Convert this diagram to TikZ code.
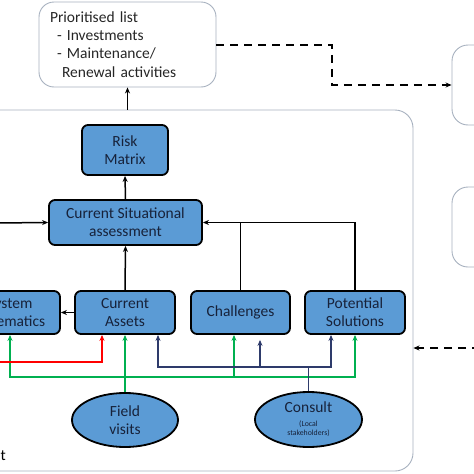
\documentclass[tikz,border=0pt]{standalone}
\usepackage{fontspec}
\setmainfont{Carlito}
\usetikzlibrary{arrows.meta,shapes.geometric,calc}
\definecolor{boxblue}{HTML}{5B9BD5}
\definecolor{txtnavy}{HTML}{17223A}
\definecolor{lgray}{HTML}{A7B1BF}
\definecolor{gline}{HTML}{00B050}
\definecolor{nline}{HTML}{2E3B6B}
\definecolor{rline}{HTML}{FF0000}
\newcommand{\bigf}{\fontsize{15.5}{18}\selectfont}
\newcommand{\smallf}{\fontsize{7.8}{9.5}\selectfont}
\begin{document}
\begin{tikzpicture}[x=1pt,y=-1pt,
  bluebox/.style={draw=black, line width=1.8pt, fill=boxblue, rounded corners=6pt, align=center, text=txtnavy, font=\bigf, inner sep=0pt},
  blueell/.style={ellipse, draw=black, line width=1.8pt, fill=boxblue, align=center, text=txtnavy, font=\bigf, inner sep=0pt},
  lightbox/.style={draw=lgray, line width=0.9pt, rounded corners=16pt},
  conn/.style={line width=1.5pt, -{Stealth[length=6pt,width=5pt]}},
  gconn/.style={draw=gline, line width=1.6pt, -{Stealth[length=6pt,width=5pt]}},
  nconn/.style={draw=nline, line width=1.6pt, -{Stealth[length=6pt,width=5pt]}},
  rconn/.style={draw=rline, line width=1.6pt, -{Stealth[length=6pt,width=5pt]}},
  dashconn/.style={line width=2pt, dash pattern=on 8pt off 6pt, -{Stealth[length=6pt,width=5pt]}}
]
\useasboundingbox (0,0) rectangle (474,474);
\clip (0,0) rectangle (474,474);

% light frames
\node[lightbox, rounded corners=18pt, minimum width=453pt, minimum height=361pt] (mainbox) at (186.5,290.5) {};
\node[lightbox, rounded corners=15pt, minimum width=177pt, minimum height=85pt, text width=155pt, inner xsep=11pt, inner ysep=0pt, align=left, text={black!85}, font=\fontsize{15.5}{18.3}\selectfont] (prio) at (127.5,44.5)
  {Prioritised list\\\hspace*{7pt}- Investments\\\hspace*{7pt}- Maintenance/\\\hspace*{12pt}Renewal\ activities};
\node[lightbox, minimum width=80pt, minimum height=80pt] (box1) at (492,85) {};
\node[lightbox, minimum width=80pt, minimum height=80pt] (box2) at (492,227) {};

% blue nodes
\node[bluebox, minimum width=86pt, minimum height=50pt] (risk) at (125,150) {Risk\\Matrix};
\node[bluebox, minimum width=153pt, minimum height=45pt] (csa) at (125.5,222.5) {Current Situational\\assessment};
\node[bluebox, minimum width=100pt, minimum height=43pt] (schem) at (10,312.5) {System\\Schematics};
\node[bluebox, minimum width=100pt, minimum height=43pt] (assets) at (125,312.5) {Current\\Assets};
\node[bluebox, minimum width=99pt, minimum height=43pt] (chall) at (240.5,312.5) {Challenges};
\node[bluebox, minimum width=100pt, minimum height=43pt] (sol) at (355,312.5) {Potential\\Solutions};
\node[blueell, minimum width=106pt, minimum height=54pt] (field) at (125,420) {Field\\visits};
\node[blueell, minimum width=107pt, minimum height=55pt] (consult) at (308.5,419.5) {Consult\\[-4pt]\smallf (Local\\[-9pt]\smallf stakeholders)};
\node[anchor=base east, inner sep=0pt, font=\bigf] (tlabel) at (6,460) {t};

% helper coordinates
\coordinate (leftin) at (-5,223);
\coordinate (redstart) at (-5,362);
\coordinate (gy) at (0,377);
\coordinate (ny) at (0,367);
\coordinate (dk) at (332,0);
\coordinate (rin) at (480,348);

% black connectors
\draw[conn] (csa.north) -- (risk.south);
\draw[conn] (assets.north) -- (csa.south);
\draw[conn] (leftin) -- (csa.west);
\draw[conn] (sol.north) |- (csa.east);
\draw[line width=1.5pt] (chall.north) -- (chall.north |- csa.east);
\draw[conn] (assets.west) -- (schem.east);
\draw[conn] (prio.south |- mainbox.north) -- (prio.south);

% dashed connectors
\draw[dashconn] (prio.east) -| (dk |- box1.west) -- (box1.west);
\draw[dashconn, line width=1.8pt] (rin) -- (mainbox.east |- rin);

% green (field visits)
\draw[gconn] (field.north) -- (assets.south);
\draw[gconn] (field.north |- gy) -| (schem.south);
\draw[gconn] (field.north |- gy) -| (sol.south);
\draw[gconn] ([xshift=-6.5pt]chall.south |- gy) -- ([xshift=-6.5pt]chall.south);

% red
\draw[rconn] (redstart) -| ([xshift=-23pt]assets.south);

% navy (consult)
\draw[draw=nline, line width=1.6pt] (consult.north) -- (consult.north |- ny);
\draw[nconn] (consult.north |- ny) -| ([xshift=33pt]assets.south);
\draw[nconn] (consult.north |- ny) -| ([xshift=-24pt]sol.south);
\draw[nconn] ([xshift=19.5pt]chall.south |- ny) -- ([xshift=19.5pt,yshift=-5pt]chall.south);
\end{tikzpicture}
\end{document}
